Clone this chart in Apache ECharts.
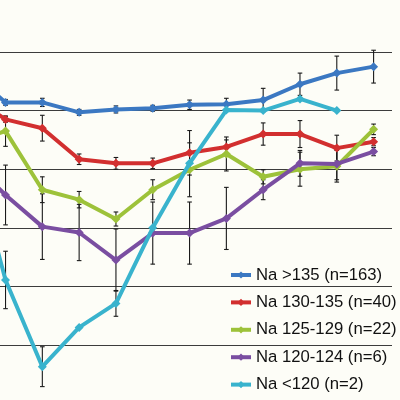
<!DOCTYPE html>
<html><head><meta charset="utf-8">
<script src="https://cdn.jsdelivr.net/npm/echarts@6/dist/echarts.min.js"></script>
<style>html,body{margin:0;padding:0;background:#fdfdf7}#c{width:400px;height:400px}</style>
</head><body><div id="c"></div>
<script>
const timepoints = [0, 1, 2, 3, 4, 5, 6, 7, 8, 9, 10, 11];
const seriesNames = ['Na >135 (n=163)', 'Na 130-135 (n=40)', 'Na 125-129 (n=22)', 'Na 120-124 (n=6)', 'Na <120 (n=2)'];
const seriesColors = ['#3b78c2', '#d22f2f', '#9dc23a', '#7a4ea1', '#39b3cd'];

const naOver135     = [96.8, 91.4, 91.4, 89.7, 90.2, 90.4, 91.0, 91.1, 91.8, 94.5, 96.4, 97.5];
const naOver135Err  = [0,    0.5,  0.7,  0.5,  0.6,  0.5,  0.8,  1.0,  2.0,  1.9,  2.9,  2.8];
const na130to135    = [92.7, 88.5, 87.0, 81.7, 81.0, 81.0, 82.8, 83.8, 86.0, 86.0, 83.6, 84.7];
const na130to135Err = [0,    0.5,  2.2,  0.9,  1.0,  0.9,  3.8,  1.2,  1.9,  2.3,  2.2,  0.7];
const na125to129    = [84.5, 86.5, 76.5, 74.8, 71.5, 76.5, 79.9, 82.6, 78.7, 80.0, 80.5, 86.8];
const na125to129Err = [0,    2.6,  2.2,  1.4,  1.2,  1.7,  4.6,  2.9,  1.2,  2.9,  2.7,  0.9];
const na120to124    = [81.7, 75.6, 70.2, 69.2, 64.5, 69.1, 69.1, 71.6, 76.5, 81.0, 80.9, 83.0];
const na120to124Err = [0,    5.1,  5.6,  4.8,  5.3,  5.3,  5.3,  5.3,  1.7,  2.2,  2.7,  0.7];
const naUnder120    = [84.5, 61.1, 46.3, 53.0, 57.1, 70.0, 81.0, 90.1, 90.0, 92.0, 90.0, null];
const naUnder120Err = [0,    4.9,  3.4,  0,    2.2,  0,    0,    0,    0,    0,    0,    0];

const yTicks = [50, 60, 70, 80, 90, 100];

const allValues = [naOver135, na130to135, na125to129, na120to124, naUnder120];
const allErrors = [naOver135Err, na130to135Err, na125to129Err, na120to124Err, naUnder120Err];

const series = [];
allValues.forEach((vals, k) => {
  const errData = [];
  vals.forEach((v, i) => { if (v != null && allErrors[k][i] > 0) errData.push([timepoints[i], v, allErrors[k][i]]); });
  series.push({
    type: 'custom', name: 'err' + k, z: 1, clip: false, silent: true,
    data: errData,
    encode: { x: 0, y: 1 },
    renderItem: function (params, api) {
      const x = api.value(0), y = api.value(1), e = api.value(2);
      const top = api.coord([x, y + e]);
      const bot = api.coord([x, y - e]);
      const w = 2.3;
      const st = { stroke: '#1a1a1a', lineWidth: 1.1 };
      return { type: 'group', children: [
        { type: 'line', shape: { x1: top[0], y1: top[1], x2: bot[0], y2: bot[1] }, style: st },
        { type: 'line', shape: { x1: top[0] - w, y1: top[1], x2: top[0] + w, y2: top[1] }, style: st },
        { type: 'line', shape: { x1: bot[0] - w, y1: bot[1], x2: bot[0] + w, y2: bot[1] }, style: st }
      ]};
    }
  });
});
allValues.forEach((vals, k) => {
  const data = [];
  vals.forEach((v, i) => { if (v != null) data.push([timepoints[i], v]); });
  series.push({
    type: 'line', name: seriesNames[k], z: 3 + k, clip: false,
    data: data,
    symbol: 'diamond', symbolSize: 9, showSymbol: true,
    color: seriesColors[k],
    lineStyle: { width: 4, color: seriesColors[k] },
    itemStyle: { color: seriesColors[k] },
    emphasis: { disabled: true }
  });
});

const chart = echarts.init(document.getElementById('c'), null, { renderer: 'canvas' });
chart.setOption({
  backgroundColor: '#fdfdf7',
  animation: false,
  grid: { left: 0, right: 8, top: 52, bottom: 55 },
  xAxis: { type: 'value', min: 0.85, max: 11.5, show: false, splitLine: { show: false } },
  yAxis: {
    type: 'value', min: yTicks[0], max: yTicks[yTicks.length - 1], interval: 10,
    axisLine: { show: false }, axisTick: { show: false }, axisLabel: { show: false },
    splitLine: { show: true, lineStyle: { color: '#3c3c3c', width: 1.2 } }
  },
  legend: {
    orient: 'vertical', left: 229, top: 265, bottom: 0, padding: 0,
    itemWidth: 20, itemHeight: 9, itemGap: 7.4,
    lineStyle: { width: 4 },
    data: seriesNames,
    textStyle: { fontFamily: 'Liberation Sans', fontSize: 16.7, color: '#111', lineHeight: 20 }
  },
  series: series
});
</script></body></html>
